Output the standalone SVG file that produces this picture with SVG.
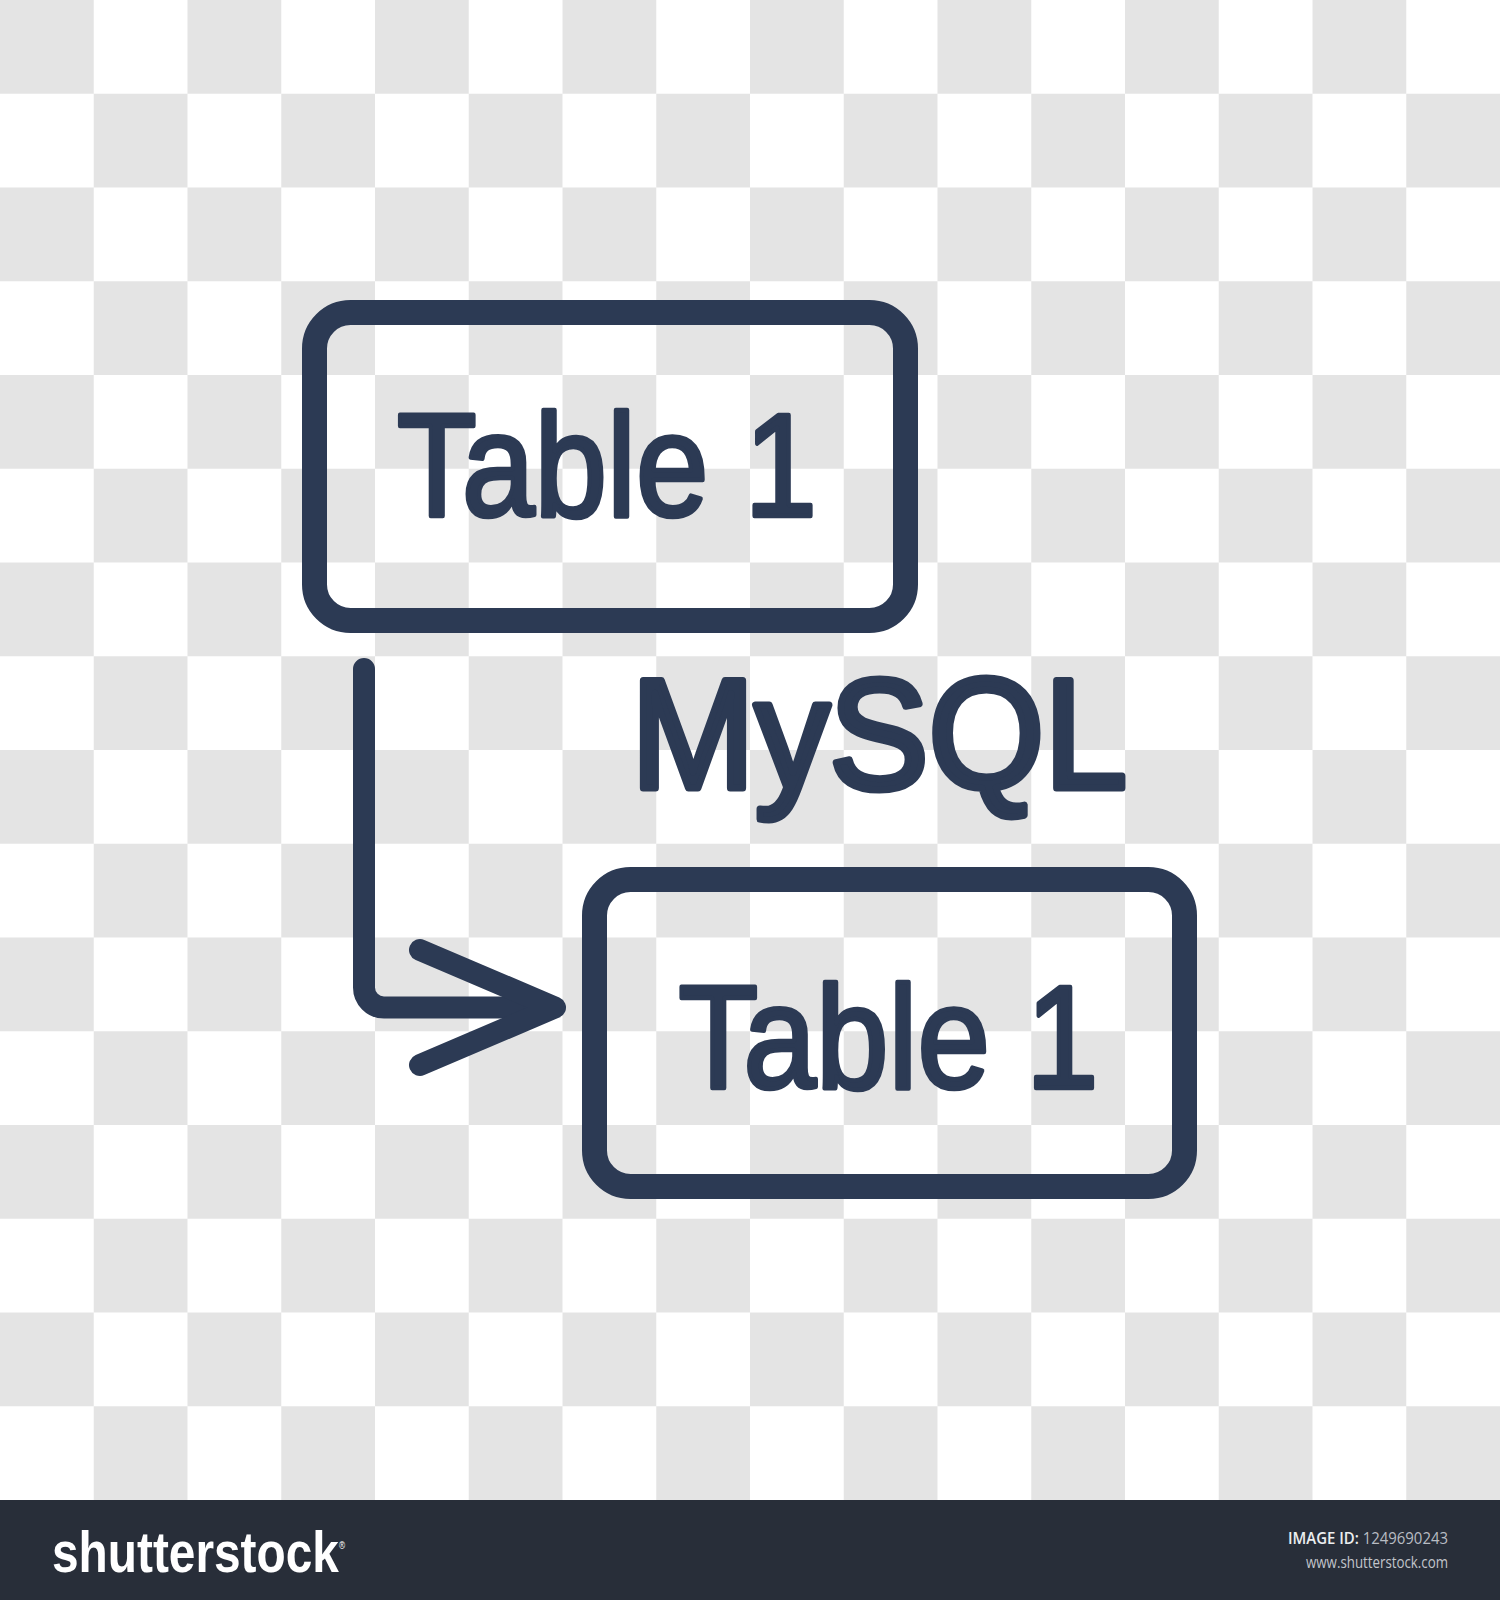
<svg xmlns="http://www.w3.org/2000/svg" width="1500" height="1600" viewBox="0 0 1500 1600">
  <defs>
    <pattern id="checker" x="0" y="0" width="187.5" height="187.5" patternUnits="userSpaceOnUse">
      <rect x="0" y="0" width="187.5" height="187.5" fill="#ffffff"/>
      <rect x="0" y="0" width="93.75" height="93.75" fill="#e4e4e4"/>
      <rect x="93.75" y="93.75" width="93.75" height="93.75" fill="#e4e4e4"/>
    </pattern>
  </defs>
  <style>
    .box { fill: none; stroke: #2c3a54; stroke-width: 25; }
    .label { font-family: "Liberation Sans", Arial, sans-serif; fill: #2c3a54; stroke: #2c3a54; stroke-linejoin: round; stroke-linecap: round; }
    .tbl { font-size: 146px; stroke-width: 4.5; }
    .conn { fill: none; stroke: #2c3a54; stroke-width: 22; stroke-linecap: round; stroke-linejoin: round; }
    .foot { font-family: "Open Sans", "Liberation Sans", sans-serif; }
  </style>

  <rect x="0" y="0" width="1500" height="1500" fill="url(#checker)"/>

  <g id="table-top">
    <rect class="box" x="314.5" y="312.5" width="591" height="308" rx="36" ry="36"/>
    <text class="label tbl" x="397" y="516" textLength="420" lengthAdjust="spacingAndGlyphs">Table 1</text>
  </g>

  <g id="mysql-label">
    <text class="label" x="631" y="788" font-size="156" stroke-width="7" textLength="496" lengthAdjust="spacingAndGlyphs">MySQL</text>
  </g>

  <g id="table-bottom">
    <rect class="box" x="594.5" y="879.5" width="590" height="307" rx="36" ry="36"/>
    <text class="label tbl" x="678.5" y="1088" textLength="420" lengthAdjust="spacingAndGlyphs">Table 1</text>
  </g>

  <g id="connectors">
    <path class="conn" d="M 364 669 V 987.5 A 20 20 0 0 0 384 1007.5 H 548"/>
    <path class="conn" d="M 420 950 L 555 1007.5 L 420 1065"/>
  </g>

  <g id="footer">
    <rect x="0" y="1500" width="1500" height="100" fill="#282e39"/>
    <text x="52" y="1571.5" font-size="58" font-weight="bold" fill="#ffffff" textLength="293" lengthAdjust="spacingAndGlyphs" font-family="Liberation Sans, sans-serif">shutterstock<tspan font-size="10" font-weight="normal" dy="-23">®</tspan></text>
    <text class="foot" x="1288" y="1544" font-size="17" textLength="160" lengthAdjust="spacingAndGlyphs"><tspan font-weight="600" fill="#eceef0">IMAGE ID:</tspan><tspan fill="#b8bcc3"> 1249690243</tspan></text>
    <text class="foot" x="1306" y="1568" font-size="17" fill="#c2c5cb" textLength="142" lengthAdjust="spacingAndGlyphs">www.shutterstock.com</text>
  </g>
</svg>
